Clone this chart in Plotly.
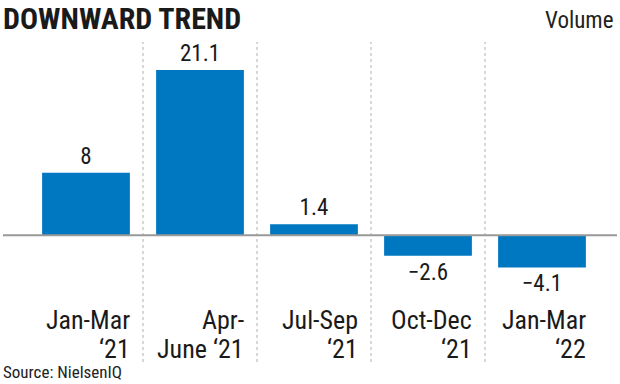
import plotly.graph_objects as go

categories = ["Jan-Mar<br>‘21", "Apr-<br>June ‘21", "Jul-Sep<br>‘21", "Oct-Dec<br>‘21", "Jan-Mar<br>‘22"]
values = [8, 21.1, 1.4, -2.6, -4.1]
value_labels = ["8", "21.1", "1.4", "−2.6", "−4.1"]

FONT = "Roboto Condensed, Roboto, sans-serif"
BLUE = "#0078c1"
INK = "#1a1a1a"

W, H = 620, 384
ML, MR, MT, MB = 29, 21, 63, 86
PH = H - MT - MB


def py(p):
    """pixel row (from top) -> paper y"""
    return (H - MB - p) / PH


def px(p):
    return (p - ML) / (W - ML - MR)


x = list(range(len(categories)))
fig = go.Figure(go.Bar(
    x=x, y=values, width=0.77, marker=dict(color=BLUE, line=dict(width=0)),
    text=value_labels, textposition="outside", cliponaxis=False,
    textfont=dict(family=FONT, size=23, color=INK),
))

shapes = []
for i in range(len(categories) - 1):
    shapes.append(dict(type="line", xref="x", yref="paper", x0=i + 0.5, x1=i + 0.5,
                       y0=py(362), y1=py(42), line=dict(color="#b0b0b0", width=1, dash="dot")))
shapes.append(dict(type="line", xref="paper", yref="y", x0=px(3), x1=px(617), y0=0, y1=0,
                   line=dict(color="#999", width=2)))

annotations = []
for i, c in enumerate(categories):
    lines = c.split("<br>")
    for j, ln in enumerate(lines):
        annotations.append(dict(x=i + 0.4, y=py(320 + 29 * j), xref="x", yref="paper", text=ln,
                                showarrow=False, xanchor="right", yanchor="middle", align="right",
                                font=dict(family=FONT, size=26, color=INK)))
annotations.append(dict(x=px(1), y=py(19), xref="paper", yref="paper", text="<b>DOWNWARD TREND</b>",
                        showarrow=False, xanchor="left", yanchor="middle",
                        font=dict(family=FONT, size=30, color=INK)))
annotations.append(dict(x=px(615), y=py(21), xref="paper", yref="paper", text="Volume",
                        showarrow=False, xanchor="right", yanchor="middle",
                        font=dict(family=FONT, size=23, color="#222")))
annotations.append(dict(x=px(1), y=py(384), xref="paper", yref="paper", text="Source: NielsenIQ",
                        showarrow=False, xanchor="left", yanchor="bottom",
                        font=dict(family=FONT, size=17, color="#222")))

fig.update_layout(
    width=W, height=H,
    margin=dict(l=ML, r=MR, t=MT, b=MB, pad=0),
    paper_bgcolor="white", plot_bgcolor="white",
    showlegend=False,
    xaxis=dict(range=[-0.5, 4.5], visible=False),
    yaxis=dict(range=[-8, 22], visible=False),
    shapes=shapes, annotations=annotations,
)

fig.write_html("out.html", post_script="document.body.style.margin='0';",
               config={"displayModeBar": False})
